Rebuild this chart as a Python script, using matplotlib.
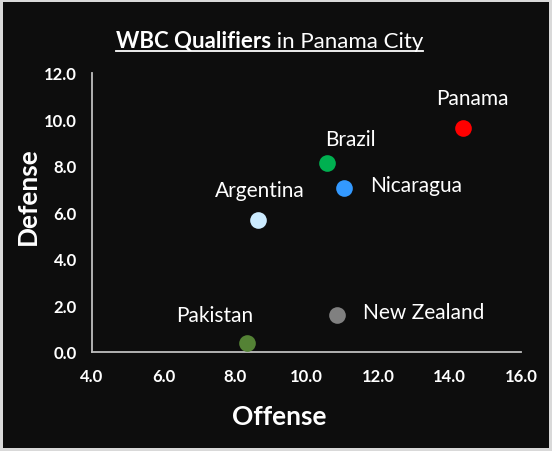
import matplotlib
matplotlib.use("Agg")
import matplotlib.pyplot as plt
from matplotlib.lines import Line2D

teams = ["Panama", "Brazil", "Nicaragua", "Argentina", "Pakistan", "New Zealand"]
offense = [14.37, 10.58, 11.06, 8.65, 8.34, 10.86]
defense = [9.62, 8.11, 7.03, 5.66, 0.35, 1.59]
colors = ["#FF0000", "#00B050", "#3399FF", "#CCEBFF", "#548235", "#808080"]
# label offsets in pixels (dx, dy) and alignment
label_offsets = [(10, 30, "center"), (23, 24, "center"), (26, 3, "left"),
                 (2, 30, "center"), (-32, 28, "center"), (26, 3, "left")]
x_ticks = [4.0, 6.0, 8.0, 10.0, 12.0, 14.0, 16.0]
y_ticks = [0.0, 2.0, 4.0, 6.0, 8.0, 10.0, 12.0]

FONT = "Lato"
BG = "#0D0D0D"
W, H = 552, 452

fig = plt.figure(figsize=(W / 100, H / 100), dpi=100)
fig.patch.set_facecolor(BG)
fig.patch.set_edgecolor("#D9D9D9")
fig.patch.set_linewidth(3)

ax = fig.add_axes([92 / W, 1 - 352.5 / H, (521 - 92) / W, (352.5 - 74) / H])
ax.set_facecolor(BG)
ax.set_xlim(x_ticks[0], x_ticks[-1])
ax.set_ylim(y_ticks[0], y_ticks[-1])
for s in ["top", "right"]:
    ax.spines[s].set_visible(False)
for s in ["left", "bottom"]:
    ax.spines[s].set_color("#BFBFBF")
    ax.spines[s].set_linewidth(1.3)

ax.set_xticks(x_ticks)
ax.set_yticks(y_ticks)
ax.set_xticklabels([f"{v:.1f}" for v in x_ticks], fontfamily=FONT, fontweight="bold",
                   fontsize=12, color="white")
ax.set_yticklabels([f"{v:.1f}" for v in y_ticks], fontfamily=FONT, fontweight="bold",
                   fontsize=12, color="white")
ax.tick_params(axis="x", length=0, pad=12)
ax.tick_params(axis="y", length=0, pad=11)

for t, x, y, c, (dx, dy, ha) in zip(teams, offense, defense, colors, label_offsets):
    ax.plot([x], [y], marker="o", markersize=12, color=c, markeredgewidth=0,
            linestyle="none", clip_on=False, zorder=3)
    ax.annotate(t, (x, y), xytext=(dx, dy), textcoords="offset pixels",
                ha=ha, va="center", fontfamily=FONT, fontsize=15, color="white")

fig.text(279.5 / W, 27 / H, "Offense", ha="center", va="baseline", fontfamily=FONT,
         fontweight="bold", fontsize=19, color="white")
fig.text(27.5 / W, 1 - 196.5 / H, "Defense", ha="center", va="center", rotation=90,
         fontfamily=FONT, fontweight="bold", fontsize=19, color="white")

# Title: bold part + regular part, underlined
renderer = fig.canvas.get_renderer()
tb = fig.text(0, 0, "WBC Qualifiers", fontfamily=FONT, fontweight="bold",
              fontsize=16, color="white", va="baseline", ha="left")
tr = fig.text(0, 0, " in Panama City", fontfamily=FONT, fontsize=16,
              color="white", va="baseline", ha="left")
wb = tb.get_window_extent(renderer).width
wr = tr.get_window_extent(renderer).width
total = wb + wr
cx = 269.5
x0 = cx - total / 2
base_y = H - 48.3
tb.set_position((x0 / W, base_y / H))
tr.set_position(((x0 + wb) / W, base_y / H))
ul_y = (H - 52) / H
fig.add_artist(Line2D([x0 / W, (x0 + total) / W], [ul_y, ul_y], color="white",
                      linewidth=1.3, transform=fig.transFigure))

fig.savefig("out.png", dpi=100, facecolor=BG, edgecolor="#D9D9D9")
